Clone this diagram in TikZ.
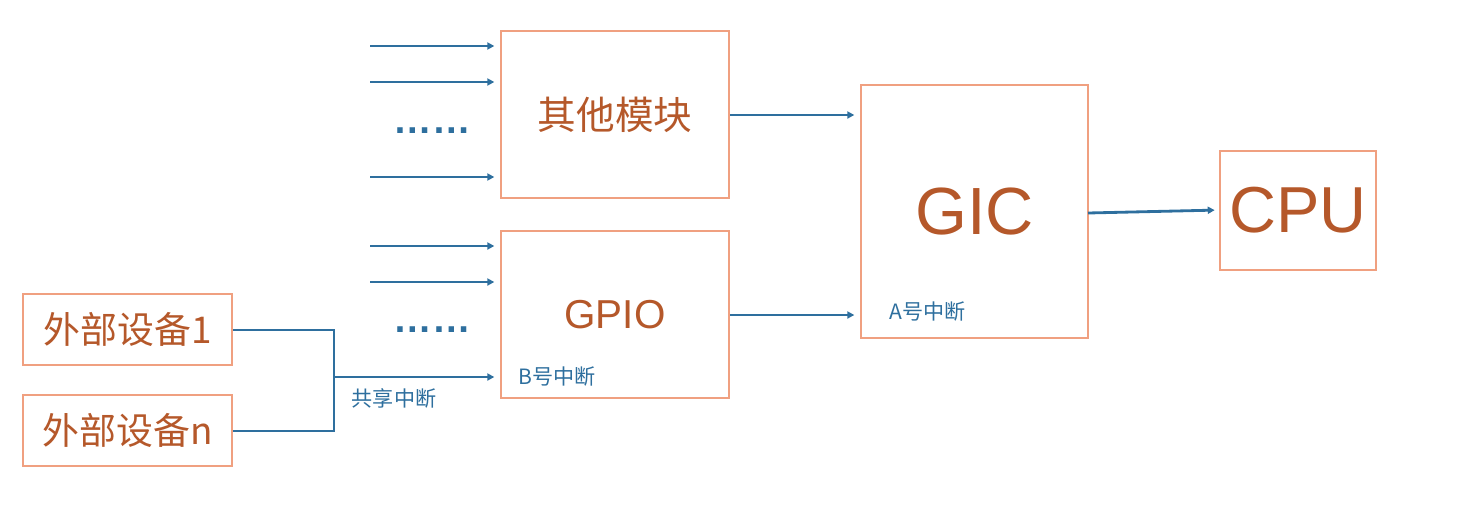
\documentclass[tikz,border=0pt]{standalone}
\usepackage{fontspec}
\setmainfont{Liberation Sans}
\newfontfamily\cjk{Noto Sans CJK SC}
\usetikzlibrary{arrows.meta}
\definecolor{linkblue}{HTML}{2E6F9E}
\definecolor{boxedge}{HTML}{F0A080}
\definecolor{boxtext}{HTML}{B5582A}
\tikzset{
  blk/.style={draw=boxedge,line width=1.6pt,text=boxtext,inner sep=0pt},
  lnk/.style={draw=linkblue,line width=1.6pt},
  arr/.style={lnk,-{Triangle[length=4pt,width=4pt]},shorten >=3pt},
  lbl/.style={text=linkblue,font=\cjk\fontsize{12}{14}\selectfont},
  dots/.style={text=linkblue,font=\bfseries\fontsize{22}{24}\selectfont}
}
\begin{document}
\begin{tikzpicture}[x=0.02cm,y=-0.02cm]
\useasboundingbox (0,0) rectangle (1473,514);

\node[blk,minimum width=228*0.02cm,minimum height=167*0.02cm,font=\cjk\fontsize{22}{26}\selectfont] (other) at (615,114.5) {其他模块};
\node[blk,minimum width=228*0.02cm,minimum height=167*0.02cm,font=\fontsize{23}{28}\selectfont] (gpio) at (615,314.5) {GPIO};
\node[blk,minimum width=227*0.02cm,minimum height=253*0.02cm] (gic) at (974.5,211.5) {};
\node[text=boxtext,font=\fontsize{38}{44}\selectfont] (gictext) at (974.5,212) {GIC};
\node[blk,minimum width=156*0.02cm,minimum height=119*0.02cm,font=\fontsize{37}{42}\selectfont] (cpu) at (1298,210.5) {CPU};
\node[blk,minimum width=209*0.02cm,minimum height=71*0.02cm,font=\cjk\fontsize{21}{24}\selectfont] (dev1) at (127.5,329.5) {外部设备1};
\node[blk,minimum width=209*0.02cm,minimum height=71*0.02cm,font=\cjk\fontsize{21}{24}\selectfont] (devn) at (127.5,430.5) {外部设备n};

% inputs of the modules
\foreach \y in {46,82,177} {
  \coordinate (o\y) at (370,\y);
  \draw[arr] (o\y) -- (other.west |- o\y);
}
\foreach \y in {246,282} {
  \coordinate (g\y) at (370,\y);
  \draw[arr] (g\y) -- (gpio.west |- g\y);
}
\node[dots] (dot1) at (432,131) {……};
\node[dots] (dot2) at (432,330) {……};

\coordinate (ga) at (730,115);
\draw[arr] (ga) -- (gic.west |- ga);
\coordinate (gb) at (730,315);
\draw[arr] (gb) -- (gic.west |- gb);
\coordinate (gc) at (1088,213);
\coordinate (gd) at (1220,210);
\draw[arr] (gc) -- (gd);

% shared line
\coordinate (j1) at (334,330);
\coordinate (jn) at (334,431);
\coordinate (js) at (334,377);
\draw[lnk] (dev1.east |- j1) -- (j1) -- (jn) -- (devn.east |- jn);
\draw[arr] (js) -- (gpio.west |- js);

\node[lbl] (shared) at (394,398) {共享中断};
\node[lbl] (birq) at (557,377) {B号中断};
\node[lbl] (airq) at (928,312) {A号中断};
\end{tikzpicture}
\end{document}
